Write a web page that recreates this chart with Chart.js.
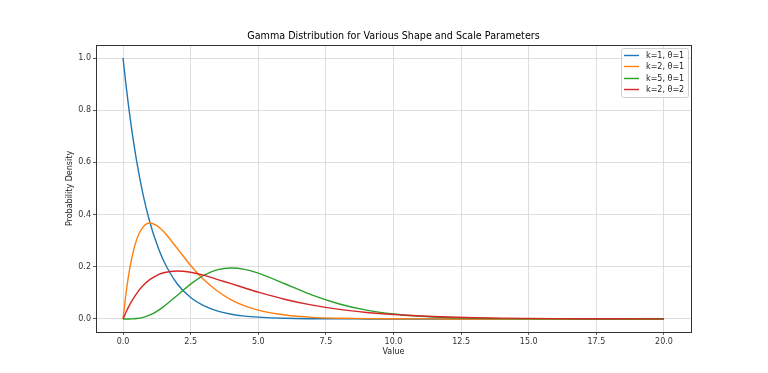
<!DOCTYPE html>
<html>
<head>
<meta charset="utf-8">
<script src="https://cdn.jsdelivr.net/npm/chart.js@4.4.1/dist/chart.umd.min.js"></script>
<style>
  html, body { margin: 0; padding: 0; background: #fff; }
  #wrap { width: 768px; height: 373px; }
</style>
</head>
<body>
<div id="wrap"><canvas id="chartGamma" width="768" height="373"></canvas></div>
<script>
// data
const xValues = [0, 0.1, 0.2, 0.3, 0.5, 0.75, 1, 1.25, 1.5, 2, 2.5, 3, 3.5, 4, 4.5, 5, 6, 7, 8, 9, 10, 11, 12, 13, 14, 15, 16, 17, 18, 19, 20];
const k1t1 = [1.0, 0.905, 0.819, 0.741, 0.607, 0.472, 0.368, 0.287, 0.223, 0.135, 0.082, 0.050, 0.030, 0.018, 0.011, 0.007, 0.0025, 0.0009, 0.0003, 0.0001, 0, 0, 0, 0, 0, 0, 0, 0, 0, 0, 0];
const k2t1 = [0, 0.090, 0.164, 0.222, 0.303, 0.354, 0.368, 0.358, 0.335, 0.271, 0.205, 0.149, 0.106, 0.073, 0.050, 0.034, 0.015, 0.006, 0.0027, 0.0011, 0.0005, 0.0002, 0.0001, 0, 0, 0, 0, 0, 0, 0, 0];
const k5t1 = [0, 0.000004, 0.00005, 0.00025, 0.0016, 0.0062, 0.0153, 0.0292, 0.0471, 0.0902, 0.1336, 0.168, 0.1888, 0.1954, 0.1898, 0.1755, 0.1339, 0.0912, 0.0573, 0.0337, 0.0189, 0.0102, 0.0053, 0.0027, 0.0013, 0.0006, 0.0003, 0.0001, 0.0001, 0, 0];
const k2t2 = [0, 0.0238, 0.0452, 0.0646, 0.0974, 0.1289, 0.1516, 0.1673, 0.1771, 0.1839, 0.1791, 0.1673, 0.1510, 0.1353, 0.1187, 0.1026, 0.0747, 0.0528, 0.0366, 0.0250, 0.0168, 0.0112, 0.0074, 0.0048, 0.0032, 0.0021, 0.0013, 0.0009, 0.0006, 0.0004, 0.0002];

const seriesLabels = ['k=1, θ=1', 'k=2, θ=1', 'k=5, θ=1', 'k=2, θ=2'];
const seriesColors = ['#1f77b4', '#ff7f0e', '#2ca02c', '#d62728'];
const xTicks = [0, 2.5, 5, 7.5, 10, 12.5, 15, 17.5, 20];
const yTicks = [0, 0.2, 0.4, 0.6, 0.8, 1.0];
const chartTitle = 'Gamma Distribution for Various Shape and Scale Parameters';

const FONT = "'DejaVu Sans', sans-serif";

function makeDataset(label, values, color, order) {
    return {
        label: label,
        data: xValues.map((x, i) => ({ x: x, y: values[i] })),
        borderColor: color,
        backgroundColor: color,
        borderWidth: 1.4,
        pointRadius: 0,
        fill: false,
        cubicInterpolationMode: 'monotone',
        order: order
    };
}

// frame round the plot area (matplotlib spines) + title centred on the plot
const framePlugin = {
    id: 'frame',
    afterDatasetsDraw(chart) {
        const { ctx, chartArea: a } = chart;
        ctx.save();
        ctx.strokeStyle = '#333';
        ctx.lineWidth = 1;
        ctx.strokeRect(Math.round(a.left) + 0.5, Math.round(a.top) + 0.5, Math.round(a.right - a.left), Math.round(a.bottom - a.top));
        ctx.fillStyle = '#000';
        ctx.font = '9.6px ' + FONT;
        ctx.textAlign = 'center';
        ctx.textBaseline = 'middle';
        ctx.fillText(chartTitle, (a.left + a.right) / 2, a.top - 8.5);
        ctx.restore();
    }
};

// legend box inside the plot, top right
const legendPlugin = {
    id: 'innerLegend',
    afterDraw(chart) {
        const { ctx, chartArea: a } = chart;
        const sets = chart.data.datasets;
        ctx.save();
        ctx.font = '8px ' + FONT;
        const textW = Math.max(...sets.map(ds => ctx.measureText(ds.label).width));
        const rowH = 11.5;
        const boxW = Math.round(25 + textW + 4);
        const boxH = Math.round(sets.length * rowH + 3);
        const x0 = Math.round(a.right - boxW - 3);
        const y0 = Math.round(a.top + 3);
        ctx.fillStyle = 'rgba(255,255,255,0.8)';
        ctx.strokeStyle = '#d0d0d0';
        ctx.lineWidth = 1;
        ctx.beginPath();
        ctx.roundRect(x0 + 0.5, y0 + 0.5, boxW, boxH, 2);
        ctx.fill();
        ctx.stroke();
        ctx.textBaseline = 'middle';
        sets.forEach((ds, i) => {
            const cy = Math.round(y0 + 6.5 + rowH * i) + 0.5;
            ctx.strokeStyle = ds.borderColor;
            ctx.lineWidth = 1.4;
            ctx.beginPath();
            ctx.moveTo(x0 + 3, cy);
            ctx.lineTo(x0 + 18, cy);
            ctx.stroke();
            ctx.fillStyle = '#222';
            ctx.fillText(ds.label, x0 + 25, cy);
        });
        ctx.restore();
    }
};

const ctx = document.getElementById('chartGamma').getContext('2d');
const gammaChart = new Chart(ctx, {
    type: 'line',
    data: {
        datasets: [
            makeDataset(seriesLabels[0], k1t1, seriesColors[0], 3),
            makeDataset(seriesLabels[1], k2t1, seriesColors[1], 2),
            makeDataset(seriesLabels[2], k5t1, seriesColors[2], 1),
            makeDataset(seriesLabels[3], k2t2, seriesColors[3], 0)
        ]
    },
    options: {
        responsive: false,
        animation: false,
        devicePixelRatio: 1,
        layout: { padding: { left: 61, right: 77, top: 45, bottom: 12 } },
        plugins: {
            legend: { display: false },
            tooltip: { enabled: false },
            title: { display: false }
        },
        scales: {
            x: {
                type: 'linear',
                min: -1,
                max: 21,
                afterBuildTicks: (scale) => { scale.ticks = xTicks.map(v => ({ value: v })); },
                afterFit: (scale) => { scale.height = 29; },
                grid: { color: '#d6d6d6', lineWidth: 0.8, drawTicks: true, tickLength: 3, tickColor: '#333' },
                border: { display: false },
                ticks: {
                    color: '#333',
                    padding: 2,
                    maxRotation: 0,
                    font: { family: FONT, size: 8 },
                    callback: (v) => Number(v).toFixed(1)
                },
                title: {
                    display: true,
                    text: 'Value',
                    color: '#222',
                    font: { family: FONT, size: 8 },
                    padding: { top: 4, bottom: 4 }
                }
            },
            y: {
                type: 'linear',
                min: -0.05,
                max: 1.05,
                afterBuildTicks: (scale) => { scale.ticks = yTicks.map(v => ({ value: v })); },
                afterFit: (scale) => { scale.width = 35; },
                grid: { color: '#d6d6d6', lineWidth: 0.8, drawTicks: true, tickLength: 3, tickColor: '#333' },
                border: { display: false },
                ticks: {
                    color: '#333',
                    padding: 2,
                    font: { family: FONT, size: 8 },
                    callback: (v) => Number(v).toFixed(1)
                },
                title: {
                    display: true,
                    text: 'Probability Density',
                    color: '#222',
                    font: { family: FONT, size: 8 },
                    padding: { top: 4, bottom: 4 }
                }
            }
        }
    },
    plugins: [framePlugin, legendPlugin]
});
</script>
</body>
</html>
